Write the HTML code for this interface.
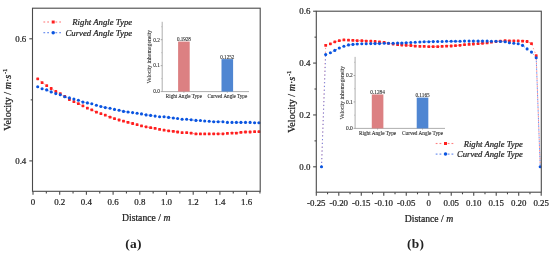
<!DOCTYPE html>
<html><head><meta charset="utf-8"><style>html,body{margin:0;padding:0;background:#fff;width:550px;height:255px;overflow:hidden}svg{display:block}text{stroke:#222;stroke-width:0.22px}text.nb{stroke:none}text.sm{stroke:#333;stroke-width:0.09px;fill:#222}</style></head><body>
<svg width="550" height="255" viewBox="0 0 550 255" font-family="&apos;Liberation Serif&apos;, serif" fill="#222">
<rect width="550" height="255" fill="#fff"/>
<g clip-path="url(#clipA)">
<polyline points="37.7,78.8 42.1,82.6 46.7,85.6 51.2,88.5 55.8,91.5 60.3,93.6 64.8,96.5 69.4,99.5 73.9,101.7 78.4,103.7 82.9,105.8 87.4,108.2 91.8,109.9 96.4,112.1 100.9,113.7 105.3,115.2 110,117.1 114.5,118.6 119.1,120 123.5,121.2 128,122.4 132.6,123.5 137.1,124.7 141.5,125.9 146.1,126.8 150.6,127.7 155.1,128.4 159.6,129.4 164.1,130.2 168.6,130.8 173.3,131.4 177.6,132 182.1,132.6 186.7,132.6 191.2,133.2 195.9,133.9 200.4,133.9 204.7,133.9 209.2,133.9 213.7,133.8 218.2,133.8 222.9,133.8 227.4,133.4 232,133.1 236.4,133.1 240.9,132.4 245.5,132 250.1,132 254.6,131.7 259,131.7" fill="none" stroke="#ff7f7f" stroke-width="0.9" stroke-dasharray="1.2 2.6"/>
<rect x="36.3" y="77.4" width="2.8" height="2.8" rx="0.6" fill="#ff1f1f"/>
<rect x="40.7" y="81.2" width="2.8" height="2.8" rx="0.6" fill="#ff1f1f"/>
<rect x="45.3" y="84.2" width="2.8" height="2.8" rx="0.6" fill="#ff1f1f"/>
<rect x="49.8" y="87.1" width="2.8" height="2.8" rx="0.6" fill="#ff1f1f"/>
<rect x="54.4" y="90.1" width="2.8" height="2.8" rx="0.6" fill="#ff1f1f"/>
<rect x="58.9" y="92.2" width="2.8" height="2.8" rx="0.6" fill="#ff1f1f"/>
<rect x="63.4" y="95.1" width="2.8" height="2.8" rx="0.6" fill="#ff1f1f"/>
<rect x="68" y="98.1" width="2.8" height="2.8" rx="0.6" fill="#ff1f1f"/>
<rect x="72.5" y="100.3" width="2.8" height="2.8" rx="0.6" fill="#ff1f1f"/>
<rect x="77" y="102.3" width="2.8" height="2.8" rx="0.6" fill="#ff1f1f"/>
<rect x="81.5" y="104.4" width="2.8" height="2.8" rx="0.6" fill="#ff1f1f"/>
<rect x="86" y="106.8" width="2.8" height="2.8" rx="0.6" fill="#ff1f1f"/>
<rect x="90.4" y="108.5" width="2.8" height="2.8" rx="0.6" fill="#ff1f1f"/>
<rect x="95" y="110.7" width="2.8" height="2.8" rx="0.6" fill="#ff1f1f"/>
<rect x="99.5" y="112.3" width="2.8" height="2.8" rx="0.6" fill="#ff1f1f"/>
<rect x="103.9" y="113.8" width="2.8" height="2.8" rx="0.6" fill="#ff1f1f"/>
<rect x="108.6" y="115.7" width="2.8" height="2.8" rx="0.6" fill="#ff1f1f"/>
<rect x="113.1" y="117.2" width="2.8" height="2.8" rx="0.6" fill="#ff1f1f"/>
<rect x="117.7" y="118.6" width="2.8" height="2.8" rx="0.6" fill="#ff1f1f"/>
<rect x="122.1" y="119.8" width="2.8" height="2.8" rx="0.6" fill="#ff1f1f"/>
<rect x="126.6" y="121" width="2.8" height="2.8" rx="0.6" fill="#ff1f1f"/>
<rect x="131.2" y="122.1" width="2.8" height="2.8" rx="0.6" fill="#ff1f1f"/>
<rect x="135.7" y="123.3" width="2.8" height="2.8" rx="0.6" fill="#ff1f1f"/>
<rect x="140.1" y="124.5" width="2.8" height="2.8" rx="0.6" fill="#ff1f1f"/>
<rect x="144.7" y="125.4" width="2.8" height="2.8" rx="0.6" fill="#ff1f1f"/>
<rect x="149.2" y="126.3" width="2.8" height="2.8" rx="0.6" fill="#ff1f1f"/>
<rect x="153.7" y="127" width="2.8" height="2.8" rx="0.6" fill="#ff1f1f"/>
<rect x="158.2" y="128" width="2.8" height="2.8" rx="0.6" fill="#ff1f1f"/>
<rect x="162.7" y="128.8" width="2.8" height="2.8" rx="0.6" fill="#ff1f1f"/>
<rect x="167.2" y="129.4" width="2.8" height="2.8" rx="0.6" fill="#ff1f1f"/>
<rect x="171.9" y="130" width="2.8" height="2.8" rx="0.6" fill="#ff1f1f"/>
<rect x="176.2" y="130.6" width="2.8" height="2.8" rx="0.6" fill="#ff1f1f"/>
<rect x="180.7" y="131.2" width="2.8" height="2.8" rx="0.6" fill="#ff1f1f"/>
<rect x="185.3" y="131.2" width="2.8" height="2.8" rx="0.6" fill="#ff1f1f"/>
<rect x="189.8" y="131.8" width="2.8" height="2.8" rx="0.6" fill="#ff1f1f"/>
<rect x="194.5" y="132.5" width="2.8" height="2.8" rx="0.6" fill="#ff1f1f"/>
<rect x="199" y="132.5" width="2.8" height="2.8" rx="0.6" fill="#ff1f1f"/>
<rect x="203.3" y="132.5" width="2.8" height="2.8" rx="0.6" fill="#ff1f1f"/>
<rect x="207.8" y="132.5" width="2.8" height="2.8" rx="0.6" fill="#ff1f1f"/>
<rect x="212.3" y="132.4" width="2.8" height="2.8" rx="0.6" fill="#ff1f1f"/>
<rect x="216.8" y="132.4" width="2.8" height="2.8" rx="0.6" fill="#ff1f1f"/>
<rect x="221.5" y="132.4" width="2.8" height="2.8" rx="0.6" fill="#ff1f1f"/>
<rect x="226" y="132" width="2.8" height="2.8" rx="0.6" fill="#ff1f1f"/>
<rect x="230.6" y="131.7" width="2.8" height="2.8" rx="0.6" fill="#ff1f1f"/>
<rect x="235" y="131.7" width="2.8" height="2.8" rx="0.6" fill="#ff1f1f"/>
<rect x="239.5" y="131" width="2.8" height="2.8" rx="0.6" fill="#ff1f1f"/>
<rect x="244.1" y="130.6" width="2.8" height="2.8" rx="0.6" fill="#ff1f1f"/>
<rect x="248.7" y="130.6" width="2.8" height="2.8" rx="0.6" fill="#ff1f1f"/>
<rect x="253.2" y="130.3" width="2.8" height="2.8" rx="0.6" fill="#ff1f1f"/>
<rect x="257.6" y="130.3" width="2.8" height="2.8" rx="0.6" fill="#ff1f1f"/>
<polyline points="37.7,86.7 42.1,88.7 46.7,89.9 51.2,91.9 55.8,93.6 60.3,94.8 64.8,96.7 69.4,97.9 73.9,99.1 78.4,100.3 82.9,102.1 87.4,102.9 91.8,103.8 96.4,105.2 100.9,106.5 105.3,107.6 110,108.2 114.5,109.4 119.1,110.2 123.5,111.4 128,112 132.6,112.6 137.1,113.3 141.5,113.9 146.1,114.9 150.6,115.4 155.1,116.1 159.6,116.7 164.1,116.8 168.6,117.4 173.3,118 177.6,118.5 182.1,119.2 186.7,119.2 191.2,119.8 195.9,120.4 200.4,120.5 204.7,121 209.2,121.2 213.7,121.7 218.2,121.7 222.9,121.7 227.4,122.4 232,122.4 236.4,122.4 240.9,122.4 245.5,122.4 250.1,122.4 254.6,122.8 259,122.8" fill="none" stroke="#5f86ee" stroke-width="0.9" stroke-dasharray="1.2 2.6"/>
<circle cx="37.7" cy="86.7" r="1.55" fill="#0a55e0"/>
<circle cx="42.1" cy="88.7" r="1.55" fill="#0a55e0"/>
<circle cx="46.7" cy="89.9" r="1.55" fill="#0a55e0"/>
<circle cx="51.2" cy="91.9" r="1.55" fill="#0a55e0"/>
<circle cx="55.8" cy="93.6" r="1.55" fill="#0a55e0"/>
<circle cx="60.3" cy="94.8" r="1.55" fill="#0a55e0"/>
<circle cx="64.8" cy="96.7" r="1.55" fill="#0a55e0"/>
<circle cx="69.4" cy="97.9" r="1.55" fill="#0a55e0"/>
<circle cx="73.9" cy="99.1" r="1.55" fill="#0a55e0"/>
<circle cx="78.4" cy="100.3" r="1.55" fill="#0a55e0"/>
<circle cx="82.9" cy="102.1" r="1.55" fill="#0a55e0"/>
<circle cx="87.4" cy="102.9" r="1.55" fill="#0a55e0"/>
<circle cx="91.8" cy="103.8" r="1.55" fill="#0a55e0"/>
<circle cx="96.4" cy="105.2" r="1.55" fill="#0a55e0"/>
<circle cx="100.9" cy="106.5" r="1.55" fill="#0a55e0"/>
<circle cx="105.3" cy="107.6" r="1.55" fill="#0a55e0"/>
<circle cx="110" cy="108.2" r="1.55" fill="#0a55e0"/>
<circle cx="114.5" cy="109.4" r="1.55" fill="#0a55e0"/>
<circle cx="119.1" cy="110.2" r="1.55" fill="#0a55e0"/>
<circle cx="123.5" cy="111.4" r="1.55" fill="#0a55e0"/>
<circle cx="128" cy="112" r="1.55" fill="#0a55e0"/>
<circle cx="132.6" cy="112.6" r="1.55" fill="#0a55e0"/>
<circle cx="137.1" cy="113.3" r="1.55" fill="#0a55e0"/>
<circle cx="141.5" cy="113.9" r="1.55" fill="#0a55e0"/>
<circle cx="146.1" cy="114.9" r="1.55" fill="#0a55e0"/>
<circle cx="150.6" cy="115.4" r="1.55" fill="#0a55e0"/>
<circle cx="155.1" cy="116.1" r="1.55" fill="#0a55e0"/>
<circle cx="159.6" cy="116.7" r="1.55" fill="#0a55e0"/>
<circle cx="164.1" cy="116.8" r="1.55" fill="#0a55e0"/>
<circle cx="168.6" cy="117.4" r="1.55" fill="#0a55e0"/>
<circle cx="173.3" cy="118" r="1.55" fill="#0a55e0"/>
<circle cx="177.6" cy="118.5" r="1.55" fill="#0a55e0"/>
<circle cx="182.1" cy="119.2" r="1.55" fill="#0a55e0"/>
<circle cx="186.7" cy="119.2" r="1.55" fill="#0a55e0"/>
<circle cx="191.2" cy="119.8" r="1.55" fill="#0a55e0"/>
<circle cx="195.9" cy="120.4" r="1.55" fill="#0a55e0"/>
<circle cx="200.4" cy="120.5" r="1.55" fill="#0a55e0"/>
<circle cx="204.7" cy="121" r="1.55" fill="#0a55e0"/>
<circle cx="209.2" cy="121.2" r="1.55" fill="#0a55e0"/>
<circle cx="213.7" cy="121.7" r="1.55" fill="#0a55e0"/>
<circle cx="218.2" cy="121.7" r="1.55" fill="#0a55e0"/>
<circle cx="222.9" cy="121.7" r="1.55" fill="#0a55e0"/>
<circle cx="227.4" cy="122.4" r="1.55" fill="#0a55e0"/>
<circle cx="232" cy="122.4" r="1.55" fill="#0a55e0"/>
<circle cx="236.4" cy="122.4" r="1.55" fill="#0a55e0"/>
<circle cx="240.9" cy="122.4" r="1.55" fill="#0a55e0"/>
<circle cx="245.5" cy="122.4" r="1.55" fill="#0a55e0"/>
<circle cx="250.1" cy="122.4" r="1.55" fill="#0a55e0"/>
<circle cx="254.6" cy="122.8" r="1.55" fill="#0a55e0"/>
<circle cx="259" cy="122.8" r="1.55" fill="#0a55e0"/>
</g>
<clipPath id="clipA"><rect x="32.5" y="8.2" width="229.7" height="183.10000000000002"/></clipPath>
<rect x="32.5" y="8.2" width="227.7" height="183.1" fill="none" stroke="#4a4a4a" stroke-width="1.1"/>
<line x1="33" y1="191.3" x2="33" y2="194.8" stroke="#4a4a4a" stroke-width="1.1"/>
<text x="33" y="204.6" font-size="8.9" text-anchor="middle">0</text>
<line x1="46.35" y1="191.3" x2="46.35" y2="193.4" stroke="#4a4a4a" stroke-width="1.1"/>
<line x1="59.7" y1="191.3" x2="59.7" y2="194.8" stroke="#4a4a4a" stroke-width="1.1"/>
<text x="59.7" y="204.6" font-size="8.9" text-anchor="middle">0.2</text>
<line x1="73.05" y1="191.3" x2="73.05" y2="193.4" stroke="#4a4a4a" stroke-width="1.1"/>
<line x1="86.4" y1="191.3" x2="86.4" y2="194.8" stroke="#4a4a4a" stroke-width="1.1"/>
<text x="86.4" y="204.6" font-size="8.9" text-anchor="middle">0.4</text>
<line x1="99.75" y1="191.3" x2="99.75" y2="193.4" stroke="#4a4a4a" stroke-width="1.1"/>
<line x1="113.1" y1="191.3" x2="113.1" y2="194.8" stroke="#4a4a4a" stroke-width="1.1"/>
<text x="113.1" y="204.6" font-size="8.9" text-anchor="middle">0.6</text>
<line x1="126.45" y1="191.3" x2="126.45" y2="193.4" stroke="#4a4a4a" stroke-width="1.1"/>
<line x1="139.8" y1="191.3" x2="139.8" y2="194.8" stroke="#4a4a4a" stroke-width="1.1"/>
<text x="139.8" y="204.6" font-size="8.9" text-anchor="middle">0.8</text>
<line x1="153.15" y1="191.3" x2="153.15" y2="193.4" stroke="#4a4a4a" stroke-width="1.1"/>
<line x1="166.5" y1="191.3" x2="166.5" y2="194.8" stroke="#4a4a4a" stroke-width="1.1"/>
<text x="166.5" y="204.6" font-size="8.9" text-anchor="middle">1.0</text>
<line x1="179.85" y1="191.3" x2="179.85" y2="193.4" stroke="#4a4a4a" stroke-width="1.1"/>
<line x1="193.2" y1="191.3" x2="193.2" y2="194.8" stroke="#4a4a4a" stroke-width="1.1"/>
<text x="193.2" y="204.6" font-size="8.9" text-anchor="middle">1.2</text>
<line x1="206.55" y1="191.3" x2="206.55" y2="193.4" stroke="#4a4a4a" stroke-width="1.1"/>
<line x1="219.9" y1="191.3" x2="219.9" y2="194.8" stroke="#4a4a4a" stroke-width="1.1"/>
<text x="219.9" y="204.6" font-size="8.9" text-anchor="middle">1.4</text>
<line x1="233.25" y1="191.3" x2="233.25" y2="193.4" stroke="#4a4a4a" stroke-width="1.1"/>
<line x1="246.6" y1="191.3" x2="246.6" y2="194.8" stroke="#4a4a4a" stroke-width="1.1"/>
<text x="246.6" y="204.6" font-size="8.9" text-anchor="middle">1.6</text>
<line x1="259.95" y1="191.3" x2="259.95" y2="193.4" stroke="#4a4a4a" stroke-width="1.1"/>
<line x1="29.3" y1="160.9" x2="32.5" y2="160.9" stroke="#4a4a4a" stroke-width="1.1"/>
<text x="26.3" y="163.9" font-size="8.9" text-anchor="end">0.4</text>
<line x1="30.7" y1="99.85" x2="32.5" y2="99.85" stroke="#4a4a4a" stroke-width="1.1"/>
<line x1="29.3" y1="38.8" x2="32.5" y2="38.8" stroke="#4a4a4a" stroke-width="1.1"/>
<text x="26.3" y="41.8" font-size="8.9" text-anchor="end">0.6</text>
<text x="146.2" y="220.6" font-size="9.7" text-anchor="middle">Distance / <tspan font-style="italic">m</tspan></text>
<text x="11.5" y="99.7" font-size="10.1" text-anchor="middle" transform="rotate(-90 11.5 99.7)">Velocity / <tspan font-style="italic">m</tspan>·<tspan font-style="italic">s</tspan><tspan font-size="6.6" dx="0.6" dy="-4.6">-1</tspan></text>
<text x="133.6" y="248" font-size="13.4" text-anchor="middle" font-weight="bold" class="nb" letter-spacing="0.3">(a)</text>
<rect x="43.4" y="21.45" width="1.8" height="1.1" fill="#ff7f7f"/>
<rect x="47.2" y="21.45" width="1.8" height="1.1" fill="#ff7f7f"/>
<rect x="55.4" y="21.45" width="1.8" height="1.1" fill="#ff7f7f"/>
<rect x="59.2" y="21.45" width="1.8" height="1.1" fill="#ff7f7f"/>
<rect x="51.7" y="20.5" width="3" height="3" fill="#ff1f1f"/>
<text x="132.2" y="25.1" font-size="8.75" text-anchor="end" font-style="italic">Right Angle Type</text>
<rect x="43.4" y="32.15" width="1.8" height="1.1" fill="#5f86ee"/>
<rect x="47.2" y="32.15" width="1.8" height="1.1" fill="#5f86ee"/>
<rect x="55.4" y="32.15" width="1.8" height="1.1" fill="#5f86ee"/>
<rect x="59.2" y="32.15" width="1.8" height="1.1" fill="#5f86ee"/>
<circle cx="53.2" cy="32.7" r="1.75" fill="#0a55e0"/>
<text x="132.2" y="35.8" font-size="8.75" text-anchor="end" font-style="italic">Curved Angle Type</text>
<line x1="162.2" y1="21.8" x2="162.2" y2="91.6" stroke="#777" stroke-width="0.6"/>
<line x1="162.2" y1="91.6" x2="249" y2="91.6" stroke="#777" stroke-width="0.6"/>
<line x1="160.7" y1="91.6" x2="162.2" y2="91.6" stroke="#777" stroke-width="0.6"/>
<text x="159.9" y="93.4" font-size="5.303999999999999" text-anchor="end" class="sm">0.0</text>
<line x1="160.7" y1="65.65" x2="162.2" y2="65.65" stroke="#777" stroke-width="0.6"/>
<text x="159.9" y="67.45" font-size="5.303999999999999" text-anchor="end" class="sm">0.1</text>
<line x1="160.7" y1="39.7" x2="162.2" y2="39.7" stroke="#777" stroke-width="0.6"/>
<text x="159.9" y="41.5" font-size="5.303999999999999" text-anchor="end" class="sm">0.2</text>
<line x1="161.2" y1="78.62" x2="162.2" y2="78.62" stroke="#999" stroke-width="0.5"/>
<line x1="161.2" y1="52.67" x2="162.2" y2="52.67" stroke="#999" stroke-width="0.5"/>
<line x1="161.2" y1="26.72" x2="162.2" y2="26.72" stroke="#999" stroke-width="0.5"/>
<rect x="178.1" y="41.57" width="11.6" height="50.03" fill="#dc8082"/>
<text x="183.9" y="41.07" font-size="5.1" text-anchor="middle" class="sm">0.1928</text>
<text x="183.9" y="98.3" font-size="5.1" text-anchor="middle" class="sm">Right Angle Type</text>
<line x1="183.9" y1="91.6" x2="183.9" y2="92.8" stroke="#777" stroke-width="0.5"/>
<rect x="221.5" y="59.11" width="11.6" height="32.49" fill="#4f86d2"/>
<text x="227.3" y="58.61" font-size="5.1" text-anchor="middle" class="sm">0.1252</text>
<text x="227.3" y="98.3" font-size="5.1" text-anchor="middle" class="sm">Curved Angle Type</text>
<line x1="227.3" y1="91.6" x2="227.3" y2="92.8" stroke="#777" stroke-width="0.5"/>
<text class="sm" x="150.6" y="56.7" font-size="5.6" text-anchor="middle" transform="rotate(-90 150.6 56.7)">Velocity inhomogeneity</text>
<g clip-path="url(#clipB)">
<polyline points="325.7,45.4 330.4,43.8 334.8,41.8 339.3,40.7 343.9,39.9 348.5,40.2 352.9,40.4 357.2,40.6 361.8,40.7 366.2,41.1 370.8,41.2 375.1,41.5 379.5,41.8 384.2,42.5 388.5,43.3 393.1,44 397.6,44.7 401.8,45 406.2,45.3 410.8,45.5 415.2,46.1 419.9,46.4 424.2,46.4 428.8,46.6 433.2,46.6 437.7,46.6 442.1,46.4 446.6,46.1 451.2,46 455.5,45.6 460,45.3 464.5,44.7 469.1,44.4 473.4,44 478.1,43.6 482.5,43.3 487.1,42.9 491.4,42.2 496,41.5 500.4,41.1 505.1,40.6 509.4,40.9 513.8,40.9 518.2,40.9 522.6,41.1 527.1,41.5 531.5,43.6 536.2,55.6" fill="none" stroke="#ff7f7f" stroke-width="0.9" stroke-dasharray="1.2 2.6"/>
<line x1="321.5" y1="166.8" x2="325.7" y2="45.4" stroke="#ff7f7f" stroke-width="0.9" stroke-dasharray="1.2 2.6"/>
<line x1="540.2" y1="166.8" x2="536.2" y2="55.6" stroke="#ff7f7f" stroke-width="0.9" stroke-dasharray="1.6 2.2" stroke-dashoffset="0"/>
<rect x="324.3" y="44" width="2.8" height="2.8" rx="0.6" fill="#ff1f1f"/>
<rect x="329" y="42.4" width="2.8" height="2.8" rx="0.6" fill="#ff1f1f"/>
<rect x="333.4" y="40.4" width="2.8" height="2.8" rx="0.6" fill="#ff1f1f"/>
<rect x="337.9" y="39.3" width="2.8" height="2.8" rx="0.6" fill="#ff1f1f"/>
<rect x="342.5" y="38.5" width="2.8" height="2.8" rx="0.6" fill="#ff1f1f"/>
<rect x="347.1" y="38.8" width="2.8" height="2.8" rx="0.6" fill="#ff1f1f"/>
<rect x="351.5" y="39" width="2.8" height="2.8" rx="0.6" fill="#ff1f1f"/>
<rect x="355.8" y="39.2" width="2.8" height="2.8" rx="0.6" fill="#ff1f1f"/>
<rect x="360.4" y="39.3" width="2.8" height="2.8" rx="0.6" fill="#ff1f1f"/>
<rect x="364.8" y="39.7" width="2.8" height="2.8" rx="0.6" fill="#ff1f1f"/>
<rect x="369.4" y="39.8" width="2.8" height="2.8" rx="0.6" fill="#ff1f1f"/>
<rect x="373.7" y="40.1" width="2.8" height="2.8" rx="0.6" fill="#ff1f1f"/>
<rect x="378.1" y="40.4" width="2.8" height="2.8" rx="0.6" fill="#ff1f1f"/>
<rect x="382.8" y="41.1" width="2.8" height="2.8" rx="0.6" fill="#ff1f1f"/>
<rect x="387.1" y="41.9" width="2.8" height="2.8" rx="0.6" fill="#ff1f1f"/>
<rect x="391.7" y="42.6" width="2.8" height="2.8" rx="0.6" fill="#ff1f1f"/>
<rect x="396.2" y="43.3" width="2.8" height="2.8" rx="0.6" fill="#ff1f1f"/>
<rect x="400.4" y="43.6" width="2.8" height="2.8" rx="0.6" fill="#ff1f1f"/>
<rect x="404.8" y="43.9" width="2.8" height="2.8" rx="0.6" fill="#ff1f1f"/>
<rect x="409.4" y="44.1" width="2.8" height="2.8" rx="0.6" fill="#ff1f1f"/>
<rect x="413.8" y="44.7" width="2.8" height="2.8" rx="0.6" fill="#ff1f1f"/>
<rect x="418.5" y="45" width="2.8" height="2.8" rx="0.6" fill="#ff1f1f"/>
<rect x="422.8" y="45" width="2.8" height="2.8" rx="0.6" fill="#ff1f1f"/>
<rect x="427.4" y="45.2" width="2.8" height="2.8" rx="0.6" fill="#ff1f1f"/>
<rect x="431.8" y="45.2" width="2.8" height="2.8" rx="0.6" fill="#ff1f1f"/>
<rect x="436.3" y="45.2" width="2.8" height="2.8" rx="0.6" fill="#ff1f1f"/>
<rect x="440.7" y="45" width="2.8" height="2.8" rx="0.6" fill="#ff1f1f"/>
<rect x="445.2" y="44.7" width="2.8" height="2.8" rx="0.6" fill="#ff1f1f"/>
<rect x="449.8" y="44.6" width="2.8" height="2.8" rx="0.6" fill="#ff1f1f"/>
<rect x="454.1" y="44.2" width="2.8" height="2.8" rx="0.6" fill="#ff1f1f"/>
<rect x="458.6" y="43.9" width="2.8" height="2.8" rx="0.6" fill="#ff1f1f"/>
<rect x="463.1" y="43.3" width="2.8" height="2.8" rx="0.6" fill="#ff1f1f"/>
<rect x="467.7" y="43" width="2.8" height="2.8" rx="0.6" fill="#ff1f1f"/>
<rect x="472" y="42.6" width="2.8" height="2.8" rx="0.6" fill="#ff1f1f"/>
<rect x="476.7" y="42.2" width="2.8" height="2.8" rx="0.6" fill="#ff1f1f"/>
<rect x="481.1" y="41.9" width="2.8" height="2.8" rx="0.6" fill="#ff1f1f"/>
<rect x="485.7" y="41.5" width="2.8" height="2.8" rx="0.6" fill="#ff1f1f"/>
<rect x="490" y="40.8" width="2.8" height="2.8" rx="0.6" fill="#ff1f1f"/>
<rect x="494.6" y="40.1" width="2.8" height="2.8" rx="0.6" fill="#ff1f1f"/>
<rect x="499" y="39.7" width="2.8" height="2.8" rx="0.6" fill="#ff1f1f"/>
<rect x="503.7" y="39.2" width="2.8" height="2.8" rx="0.6" fill="#ff1f1f"/>
<rect x="508" y="39.5" width="2.8" height="2.8" rx="0.6" fill="#ff1f1f"/>
<rect x="512.4" y="39.5" width="2.8" height="2.8" rx="0.6" fill="#ff1f1f"/>
<rect x="516.8" y="39.5" width="2.8" height="2.8" rx="0.6" fill="#ff1f1f"/>
<rect x="521.2" y="39.7" width="2.8" height="2.8" rx="0.6" fill="#ff1f1f"/>
<rect x="525.7" y="40.1" width="2.8" height="2.8" rx="0.6" fill="#ff1f1f"/>
<rect x="530.1" y="42.2" width="2.8" height="2.8" rx="0.6" fill="#ff1f1f"/>
<rect x="534.8" y="54.2" width="2.8" height="2.8" rx="0.6" fill="#ff1f1f"/>
<polyline points="325.7,54.6 330.4,52.7 334.8,50.4 339.3,48 343.9,46.2 348.5,44.9 352.9,44.4 357.2,44 361.8,43.7 366.2,43.7 370.8,43.6 375.1,43.6 379.5,43.6 384.2,43.3 388.5,43.3 393.1,43.3 397.6,43.1 401.8,43.1 406.2,42.8 410.8,42.5 415.2,42.2 419.9,42 424.2,41.8 428.8,41.7 433.2,41.6 437.7,41.5 442.1,41.5 446.6,41.3 451.2,41.3 455.5,41.2 460,41.2 464.5,41.1 469.1,41.1 473.4,41.1 478.1,41.1 482.5,41.1 487.1,41.1 491.4,41.2 496,41.2 500.4,41.5 505.1,41.8 509.4,42.7 513.8,43.2 518.2,43.8 522.6,45.4 527.1,48.9 531.5,52.1 536.2,57.7" fill="none" stroke="#5f86ee" stroke-width="0.9" stroke-dasharray="1.2 2.6"/>
<line x1="321.5" y1="166.8" x2="325.7" y2="54.6" stroke="#5f86ee" stroke-width="0.9" stroke-dasharray="1.2 2.6"/>
<line x1="540.2" y1="166.8" x2="536.2" y2="57.7" stroke="#5f86ee" stroke-width="0.9" stroke-dasharray="1.6 2.2" stroke-dashoffset="1.9"/>
<circle cx="321.5" cy="166.8" r="1.55" fill="#0a55e0"/>
<circle cx="325.7" cy="54.6" r="1.55" fill="#0a55e0"/>
<circle cx="330.4" cy="52.7" r="1.55" fill="#0a55e0"/>
<circle cx="334.8" cy="50.4" r="1.55" fill="#0a55e0"/>
<circle cx="339.3" cy="48" r="1.55" fill="#0a55e0"/>
<circle cx="343.9" cy="46.2" r="1.55" fill="#0a55e0"/>
<circle cx="348.5" cy="44.9" r="1.55" fill="#0a55e0"/>
<circle cx="352.9" cy="44.4" r="1.55" fill="#0a55e0"/>
<circle cx="357.2" cy="44" r="1.55" fill="#0a55e0"/>
<circle cx="361.8" cy="43.7" r="1.55" fill="#0a55e0"/>
<circle cx="366.2" cy="43.7" r="1.55" fill="#0a55e0"/>
<circle cx="370.8" cy="43.6" r="1.55" fill="#0a55e0"/>
<circle cx="375.1" cy="43.6" r="1.55" fill="#0a55e0"/>
<circle cx="379.5" cy="43.6" r="1.55" fill="#0a55e0"/>
<circle cx="384.2" cy="43.3" r="1.55" fill="#0a55e0"/>
<circle cx="388.5" cy="43.3" r="1.55" fill="#0a55e0"/>
<circle cx="393.1" cy="43.3" r="1.55" fill="#0a55e0"/>
<circle cx="397.6" cy="43.1" r="1.55" fill="#0a55e0"/>
<circle cx="401.8" cy="43.1" r="1.55" fill="#0a55e0"/>
<circle cx="406.2" cy="42.8" r="1.55" fill="#0a55e0"/>
<circle cx="410.8" cy="42.5" r="1.55" fill="#0a55e0"/>
<circle cx="415.2" cy="42.2" r="1.55" fill="#0a55e0"/>
<circle cx="419.9" cy="42" r="1.55" fill="#0a55e0"/>
<circle cx="424.2" cy="41.8" r="1.55" fill="#0a55e0"/>
<circle cx="428.8" cy="41.7" r="1.55" fill="#0a55e0"/>
<circle cx="433.2" cy="41.6" r="1.55" fill="#0a55e0"/>
<circle cx="437.7" cy="41.5" r="1.55" fill="#0a55e0"/>
<circle cx="442.1" cy="41.5" r="1.55" fill="#0a55e0"/>
<circle cx="446.6" cy="41.3" r="1.55" fill="#0a55e0"/>
<circle cx="451.2" cy="41.3" r="1.55" fill="#0a55e0"/>
<circle cx="455.5" cy="41.2" r="1.55" fill="#0a55e0"/>
<circle cx="460" cy="41.2" r="1.55" fill="#0a55e0"/>
<circle cx="464.5" cy="41.1" r="1.55" fill="#0a55e0"/>
<circle cx="469.1" cy="41.1" r="1.55" fill="#0a55e0"/>
<circle cx="473.4" cy="41.1" r="1.55" fill="#0a55e0"/>
<circle cx="478.1" cy="41.1" r="1.55" fill="#0a55e0"/>
<circle cx="482.5" cy="41.1" r="1.55" fill="#0a55e0"/>
<circle cx="487.1" cy="41.1" r="1.55" fill="#0a55e0"/>
<circle cx="491.4" cy="41.2" r="1.55" fill="#0a55e0"/>
<circle cx="496" cy="41.2" r="1.55" fill="#0a55e0"/>
<circle cx="500.4" cy="41.5" r="1.55" fill="#0a55e0"/>
<circle cx="505.1" cy="41.8" r="1.55" fill="#0a55e0"/>
<circle cx="509.4" cy="42.7" r="1.55" fill="#0a55e0"/>
<circle cx="513.8" cy="43.2" r="1.55" fill="#0a55e0"/>
<circle cx="518.2" cy="43.8" r="1.55" fill="#0a55e0"/>
<circle cx="522.6" cy="45.4" r="1.55" fill="#0a55e0"/>
<circle cx="527.1" cy="48.9" r="1.55" fill="#0a55e0"/>
<circle cx="531.5" cy="52.1" r="1.55" fill="#0a55e0"/>
<circle cx="536.2" cy="57.7" r="1.55" fill="#0a55e0"/>
<circle cx="540.2" cy="166.8" r="1.55" fill="#0a55e0"/>
</g>
<clipPath id="clipB"><rect x="316.3" y="11.2" width="225" height="181"/></clipPath>
<rect x="316.3" y="11.2" width="225" height="181" fill="none" stroke="#4a4a4a" stroke-width="1.1"/>
<line x1="316.3" y1="192.2" x2="316.3" y2="195.7" stroke="#4a4a4a" stroke-width="1.1"/>
<text x="316.3" y="205.7" font-size="8.9" text-anchor="middle">-0.25</text>
<line x1="327.55" y1="192.2" x2="327.55" y2="194.3" stroke="#4a4a4a" stroke-width="1.1"/>
<line x1="338.79" y1="192.2" x2="338.79" y2="195.7" stroke="#4a4a4a" stroke-width="1.1"/>
<text x="338.79" y="205.7" font-size="8.9" text-anchor="middle">-0.20</text>
<line x1="350.03" y1="192.2" x2="350.03" y2="194.3" stroke="#4a4a4a" stroke-width="1.1"/>
<line x1="361.28" y1="192.2" x2="361.28" y2="195.7" stroke="#4a4a4a" stroke-width="1.1"/>
<text x="361.28" y="205.7" font-size="8.9" text-anchor="middle">-0.15</text>
<line x1="372.52" y1="192.2" x2="372.52" y2="194.3" stroke="#4a4a4a" stroke-width="1.1"/>
<line x1="383.77" y1="192.2" x2="383.77" y2="195.7" stroke="#4a4a4a" stroke-width="1.1"/>
<text x="383.77" y="205.7" font-size="8.9" text-anchor="middle">-0.10</text>
<line x1="395.01" y1="192.2" x2="395.01" y2="194.3" stroke="#4a4a4a" stroke-width="1.1"/>
<line x1="406.26" y1="192.2" x2="406.26" y2="195.7" stroke="#4a4a4a" stroke-width="1.1"/>
<text x="406.26" y="205.7" font-size="8.9" text-anchor="middle">-0.05</text>
<line x1="417.5" y1="192.2" x2="417.5" y2="194.3" stroke="#4a4a4a" stroke-width="1.1"/>
<line x1="428.75" y1="192.2" x2="428.75" y2="195.7" stroke="#4a4a4a" stroke-width="1.1"/>
<text x="428.75" y="205.7" font-size="8.9" text-anchor="middle">0</text>
<line x1="440" y1="192.2" x2="440" y2="194.3" stroke="#4a4a4a" stroke-width="1.1"/>
<line x1="451.24" y1="192.2" x2="451.24" y2="195.7" stroke="#4a4a4a" stroke-width="1.1"/>
<text x="451.24" y="205.7" font-size="8.9" text-anchor="middle">0.05</text>
<line x1="462.49" y1="192.2" x2="462.49" y2="194.3" stroke="#4a4a4a" stroke-width="1.1"/>
<line x1="473.73" y1="192.2" x2="473.73" y2="195.7" stroke="#4a4a4a" stroke-width="1.1"/>
<text x="473.73" y="205.7" font-size="8.9" text-anchor="middle">0.10</text>
<line x1="484.98" y1="192.2" x2="484.98" y2="194.3" stroke="#4a4a4a" stroke-width="1.1"/>
<line x1="496.22" y1="192.2" x2="496.22" y2="195.7" stroke="#4a4a4a" stroke-width="1.1"/>
<text x="496.22" y="205.7" font-size="8.9" text-anchor="middle">0.15</text>
<line x1="507.47" y1="192.2" x2="507.47" y2="194.3" stroke="#4a4a4a" stroke-width="1.1"/>
<line x1="518.71" y1="192.2" x2="518.71" y2="195.7" stroke="#4a4a4a" stroke-width="1.1"/>
<text x="518.71" y="205.7" font-size="8.9" text-anchor="middle">0.20</text>
<line x1="529.96" y1="192.2" x2="529.96" y2="194.3" stroke="#4a4a4a" stroke-width="1.1"/>
<line x1="541.2" y1="192.2" x2="541.2" y2="195.7" stroke="#4a4a4a" stroke-width="1.1"/>
<text x="541.2" y="205.7" font-size="8.9" text-anchor="middle">0.25</text>
<line x1="313.1" y1="166.8" x2="316.3" y2="166.8" stroke="#4a4a4a" stroke-width="1.1"/>
<text x="310.4" y="169.8" font-size="8.9" text-anchor="end">0.0</text>
<line x1="314.5" y1="140.87" x2="316.3" y2="140.87" stroke="#4a4a4a" stroke-width="1.1"/>
<line x1="313.1" y1="114.94" x2="316.3" y2="114.94" stroke="#4a4a4a" stroke-width="1.1"/>
<text x="310.4" y="117.94" font-size="8.9" text-anchor="end">0.2</text>
<line x1="314.5" y1="89.01" x2="316.3" y2="89.01" stroke="#4a4a4a" stroke-width="1.1"/>
<line x1="313.1" y1="63.08" x2="316.3" y2="63.08" stroke="#4a4a4a" stroke-width="1.1"/>
<text x="310.4" y="66.08" font-size="8.9" text-anchor="end">0.4</text>
<line x1="314.5" y1="37.15" x2="316.3" y2="37.15" stroke="#4a4a4a" stroke-width="1.1"/>
<line x1="313.1" y1="11.22" x2="316.3" y2="11.22" stroke="#4a4a4a" stroke-width="1.1"/>
<text x="310.4" y="14.22" font-size="8.9" text-anchor="end">0.6</text>
<text x="429" y="221.6" font-size="9.7" text-anchor="middle">Distance / <tspan font-style="italic">m</tspan></text>
<text x="295.2" y="101.7" font-size="10.1" text-anchor="middle" transform="rotate(-90 295.2 101.7)">Velocity / <tspan font-style="italic">m</tspan>·<tspan font-style="italic">s</tspan><tspan font-size="6.6" dx="0.6" dy="-4.6">-1</tspan></text>
<text x="415.7" y="248.4" font-size="13.4" text-anchor="middle" font-weight="bold" class="nb" letter-spacing="0.3">(b)</text>
<rect x="435.7" y="142.95" width="1.8" height="1.1" fill="#ff7f7f"/>
<rect x="439.5" y="142.95" width="1.8" height="1.1" fill="#ff7f7f"/>
<rect x="447.7" y="142.95" width="1.8" height="1.1" fill="#ff7f7f"/>
<rect x="451.5" y="142.95" width="1.8" height="1.1" fill="#ff7f7f"/>
<rect x="444" y="142" width="3" height="3" fill="#ff1f1f"/>
<text x="522.8" y="146.6" font-size="8.65" text-anchor="end" font-style="italic">Right Angle Type</text>
<rect x="435.7" y="153.55" width="1.8" height="1.1" fill="#5f86ee"/>
<rect x="439.5" y="153.55" width="1.8" height="1.1" fill="#5f86ee"/>
<rect x="447.7" y="153.55" width="1.8" height="1.1" fill="#5f86ee"/>
<rect x="451.5" y="153.55" width="1.8" height="1.1" fill="#5f86ee"/>
<circle cx="445.5" cy="154.1" r="1.75" fill="#0a55e0"/>
<text x="522.8" y="157.2" font-size="8.65" text-anchor="end" font-style="italic">Curved Angle Type</text>
<line x1="355.1" y1="56.9" x2="355.1" y2="128.4" stroke="#777" stroke-width="0.6"/>
<line x1="355.1" y1="128.4" x2="445" y2="128.4" stroke="#777" stroke-width="0.6"/>
<line x1="353.6" y1="128.4" x2="355.1" y2="128.4" stroke="#777" stroke-width="0.6"/>
<text x="352.8" y="130.2" font-size="5.46" text-anchor="end" class="sm">0.0</text>
<line x1="353.6" y1="101.95" x2="355.1" y2="101.95" stroke="#777" stroke-width="0.6"/>
<text x="352.8" y="103.75" font-size="5.46" text-anchor="end" class="sm">0.1</text>
<line x1="353.6" y1="75.5" x2="355.1" y2="75.5" stroke="#777" stroke-width="0.6"/>
<text x="352.8" y="77.3" font-size="5.46" text-anchor="end" class="sm">0.2</text>
<line x1="354.1" y1="115.18" x2="355.1" y2="115.18" stroke="#999" stroke-width="0.5"/>
<line x1="354.1" y1="88.73" x2="355.1" y2="88.73" stroke="#999" stroke-width="0.5"/>
<line x1="354.1" y1="62.28" x2="355.1" y2="62.28" stroke="#999" stroke-width="0.5"/>
<rect x="371.78" y="94.44" width="11.6" height="33.96" fill="#dc8082"/>
<text x="377.58" y="93.94" font-size="5.25" text-anchor="middle" class="sm">0.1284</text>
<text x="377.58" y="135.25" font-size="5.25" text-anchor="middle" class="sm">Right Angle Type</text>
<line x1="377.58" y1="128.4" x2="377.58" y2="129.6" stroke="#777" stroke-width="0.5"/>
<rect x="416.72" y="97.59" width="11.6" height="30.81" fill="#4f86d2"/>
<text x="422.52" y="97.09" font-size="5.25" text-anchor="middle" class="sm">0.1165</text>
<text x="422.52" y="135.25" font-size="5.25" text-anchor="middle" class="sm">Curved Angle Type</text>
<line x1="422.52" y1="128.4" x2="422.52" y2="129.6" stroke="#777" stroke-width="0.5"/>
<text class="sm" x="343.6" y="92.65" font-size="5.6" text-anchor="middle" transform="rotate(-90 343.6 92.65)">Velocity inhomogeneity</text>
</svg>
</body></html>
